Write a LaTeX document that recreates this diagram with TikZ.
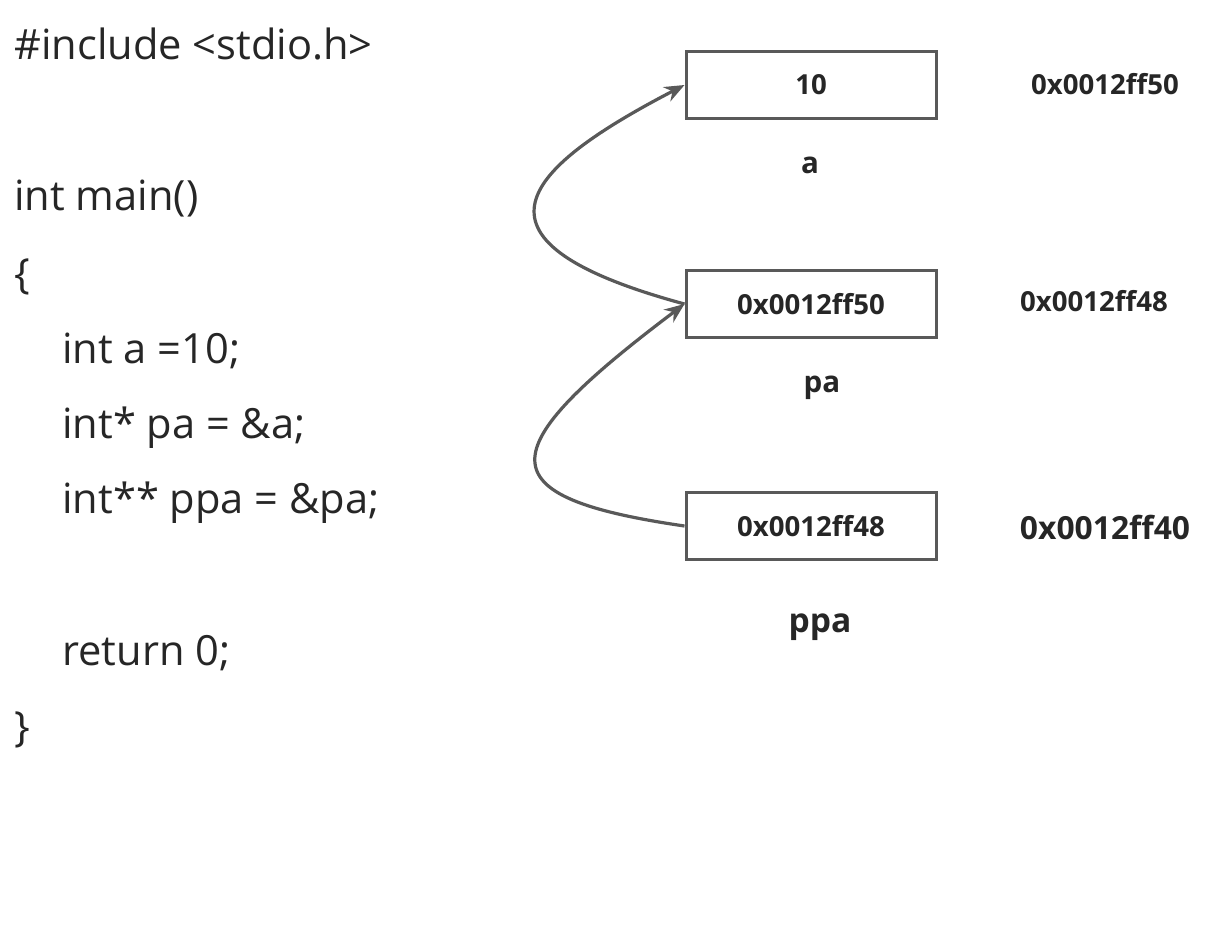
\documentclass[tikz,border=0pt]{standalone}
\usepackage{fontspec}
\setmainfont{Open Sans}
\usepackage{xcolor}
\usetikzlibrary{arrows.meta,positioning}
\definecolor{inkgray}{RGB}{38,38,38}
\definecolor{linegray}{RGB}{89,89,89}

\begin{document}
\begin{tikzpicture}[
    x=0.5pt, y=-0.5pt,
    codeline/.style={anchor=base west, inner sep=0pt, text=inkgray,
                font=\fontsize{20.8}{25}\selectfont},
    cell/.style={draw=linegray, line width=1.5pt, minimum width=125pt,
                minimum height=33.5pt, inner sep=0pt, text=inkgray,
                font=\bfseries\fontsize{13.8}{16}\selectfont},
    varname/.style={inner sep=0pt, text=inkgray,
                font=\bfseries\fontsize{14.8}{17}\selectfont},
    addr/.style={inner sep=0pt, text=inkgray,
                font=\bfseries\fontsize{13.8}{16}\selectfont},
    ptr/.style={-{Stealth[length=10pt, width=8pt]}, line width=1.6pt,
                draw=linegray}
]
\useasboundingbox[fill=white] (0,0) rectangle (1208,926);

% source code
\node[codeline] (inc) at (14,59) {\#include <stdio.h>};
\node[codeline] (main) at (14,210) {int main()};
\node[codeline] (open) at (14,288) {\{};
\node[codeline] (decla) at (62,363) {int a =10;};
\node[codeline] (declpa) at (62,438) {int* pa = \&a;};
\node[codeline] (declppa) at (62,513) {int** ppa = \&pa;};
\node[codeline] (ret) at (62,665) {return 0;};
\node[codeline] (close) at (14,741) {\}};

% memory cells
\node[cell] (a) at (811,85) {10};
\node[cell] (pa) at (811,304) {0x0012ff50};
\node[cell] (ppa) at (811,526) {0x0012ff48};

\node[varname] (na) at (810,165) {a};
\node[varname] (npa) at (822,388) {pa};
\node[varname, font=\bfseries\fontsize{16.8}{19}\selectfont] (nppa) at (820,627) {ppa};

\node[addr] (adra) at (1105,84) {0x0012ff50};
\node[addr] (adrpa) at (1094,301) {0x0012ff48};
\node[addr, font=\bfseries\fontsize{15.9}{18}\selectfont] (adrppa) at (1105,527) {0x0012ff40};

% pointers
\draw[ptr] (pa.west) .. controls (456,242) and (517,172) .. (a.west);
\draw[ptr] (ppa.west) .. controls (485,497) and (488,452) .. (pa.west);

\end{tikzpicture}
\end{document}
